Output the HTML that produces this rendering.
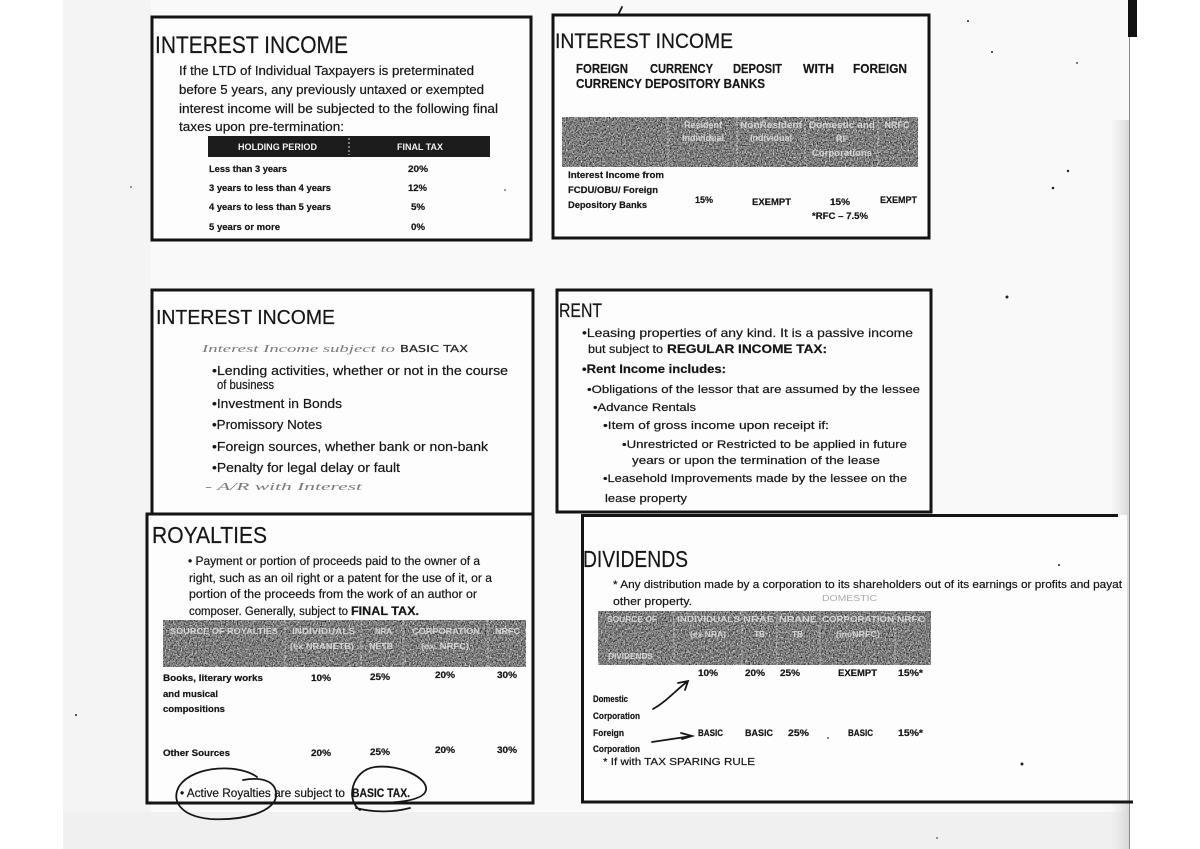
<!DOCTYPE html>
<html><head><meta charset="utf-8"><style>
html,body{margin:0;padding:0;background:#fff;width:1200px;height:849px;overflow:hidden}
svg{display:block}
text{font-family:"Liberation Sans",Arial,sans-serif;fill:#161616;stroke:#161616;stroke-width:0.2}
.b{font-weight:bold}
.hd{font-weight:bold;fill:#ececec;stroke:none;opacity:.8}
.hw{font-family:"Liberation Serif",serif;font-style:italic;fill:#7a7a7a;stroke:none}
.hc{font-family:"DejaVu Sans",sans-serif;fill:#2a2a2a}
.box{fill:none;stroke:#141414;stroke-width:3}
.ink{fill:none;stroke:#161616;stroke-width:1.8;stroke-linecap:round}
.sep{stroke:#c8c8c8;stroke-width:1;stroke-dasharray:2 1.5}
</style></head><body>
<svg width="1200" height="849" viewBox="0 0 1200 849" xmlns="http://www.w3.org/2000/svg">
<defs>
<filter id="n" x="0" y="0" width="1" height="1" color-interpolation-filters="sRGB">
<feTurbulence type="fractalNoise" baseFrequency="0.75" numOctaves="2" seed="5"/>
<feColorMatrix type="matrix" values="0.33 0.33 0.33 0 0 0.33 0.33 0.33 0 0 0.33 0.33 0.33 0 0 0 0 0 0 1"/>
<feComponentTransfer>
<feFuncR type="linear" slope="2.4" intercept="-0.70"/>
<feFuncG type="linear" slope="2.4" intercept="-0.70"/>
<feFuncB type="linear" slope="2.4" intercept="-0.70"/>
</feComponentTransfer>
</filter>
<linearGradient id="edge" x1="0" x2="1" y1="0" y2="0">
<stop offset="0" stop-color="#e6e6e6" stop-opacity="0"/>
<stop offset="1" stop-color="#d4d4d4" stop-opacity="1"/>
</linearGradient>
</defs>

<!-- page background -->
<rect x="0" y="0" width="1200" height="849" fill="#ffffff"/>
<rect x="63" y="0" width="1067" height="849" fill="#f9f9f9"/>
<rect x="63" y="0" width="88" height="849" fill="#f4f4f4"/>
<rect x="63" y="812" width="1067" height="37" fill="#f0f0f0"/>
<rect x="1110" y="120" width="20" height="729" fill="url(#edge)"/>
<line x1="1129.5" y1="37" x2="1129.5" y2="849" stroke="#8a8a8a" stroke-width="1"/>
<rect x="1128" y="0" width="9" height="37" fill="#111"/>

<!-- box interiors -->
<rect x="152" y="17" width="379" height="223" fill="#fdfdfd"/>
<rect x="553" y="15" width="376" height="223" fill="#fdfdfd"/>
<rect x="152" y="290" width="381" height="224" fill="#fdfdfd"/>
<rect x="557" y="290" width="374" height="222" fill="#fdfdfd"/>
<rect x="147" y="514" width="386" height="289" fill="#fdfdfd"/>
<rect x="582" y="515" width="545" height="287" fill="#fdfdfd"/>

<!-- ================= BOX 1 ================= -->
<rect class="box" x="152" y="17" width="379" height="223"/>
<text x="155" y="53" font-size="24" textLength="193" lengthAdjust="spacingAndGlyphs">INTEREST INCOME</text>
<text x="179" y="75" font-size="12.5" textLength="295" lengthAdjust="spacingAndGlyphs">If the LTD of Individual Taxpayers is preterminated</text>
<text x="179" y="94" font-size="12.5" textLength="305" lengthAdjust="spacingAndGlyphs">before 5 years, any previously untaxed or exempted</text>
<text x="179" y="113" font-size="12.5" textLength="319" lengthAdjust="spacingAndGlyphs">interest income will be subjected to the following final</text>
<text x="179" y="131" font-size="12.5" textLength="165" lengthAdjust="spacingAndGlyphs">taxes upon pre-termination:</text>
<rect x="208" y="136" width="282" height="21" fill="#1c1c1c"/>
<line x1="349" y1="138" x2="349" y2="155" stroke="#ddd" stroke-width="1" stroke-dasharray="2 2"/>
<text x="238" y="150" font-size="9.5" class="b" style="fill:#f2f2f2;stroke:none" textLength="79" lengthAdjust="spacingAndGlyphs">HOLDING PERIOD</text>
<text x="397" y="150" font-size="9.5" class="b" style="fill:#f2f2f2;stroke:none" textLength="46" lengthAdjust="spacingAndGlyphs">FINAL TAX</text>
<text x="209" y="172" font-size="9" class="b" textLength="78" lengthAdjust="spacingAndGlyphs">Less than 3 years</text>
<text x="408" y="172" font-size="9" class="b" textLength="20" lengthAdjust="spacingAndGlyphs">20%</text>
<text x="209" y="191" font-size="9" class="b" textLength="122" lengthAdjust="spacingAndGlyphs">3 years to less than 4 years</text>
<text x="408" y="191" font-size="9" class="b" textLength="19" lengthAdjust="spacingAndGlyphs">12%</text>
<text x="209" y="210" font-size="9" class="b" textLength="122" lengthAdjust="spacingAndGlyphs">4 years to less than 5 years</text>
<text x="411" y="210" font-size="9" class="b" textLength="14" lengthAdjust="spacingAndGlyphs">5%</text>
<text x="209" y="230" font-size="9" class="b" textLength="71" lengthAdjust="spacingAndGlyphs">5 years or more</text>
<text x="411" y="230" font-size="9" class="b" textLength="14" lengthAdjust="spacingAndGlyphs">0%</text>

<!-- ================= BOX 2 ================= -->
<path class="ink" d="M622 7 L618 15" stroke-width="1.5"/>
<rect class="box" x="553" y="15" width="376" height="223"/>
<text x="555" y="48" font-size="21" textLength="178" lengthAdjust="spacingAndGlyphs">INTEREST INCOME</text>
<text x="576" y="73" font-size="12.5" class="b" textLength="52" lengthAdjust="spacingAndGlyphs">FOREIGN</text>
<text x="650" y="73" font-size="12.5" class="b" textLength="63" lengthAdjust="spacingAndGlyphs">CURRENCY</text>
<text x="733" y="73" font-size="12.5" class="b" textLength="49" lengthAdjust="spacingAndGlyphs">DEPOSIT</text>
<text x="803" y="73" font-size="12.5" class="b" textLength="31" lengthAdjust="spacingAndGlyphs">WITH</text>
<text x="853" y="73" font-size="12.5" class="b" textLength="54" lengthAdjust="spacingAndGlyphs">FOREIGN</text>
<text x="576" y="88" font-size="12.5" class="b" textLength="189" lengthAdjust="spacingAndGlyphs">CURRENCY DEPOSITORY BANKS</text>
<rect x="562" y="117" width="356" height="50" filter="url(#n)"/>
<line class="sep" x1="668" y1="117" x2="668" y2="167"/>
<line class="sep" x1="737" y1="117" x2="737" y2="167"/>
<line class="sep" x1="805" y1="117" x2="805" y2="167"/>
<line class="sep" x1="878" y1="117" x2="878" y2="167"/>
<text x="703" y="128" font-size="9" class="hd" text-anchor="middle">Resident</text>
<text x="703" y="141" font-size="9" class="hd" text-anchor="middle">Individual</text>
<text x="771" y="128" font-size="9" class="hd" text-anchor="middle" textLength="62" lengthAdjust="spacingAndGlyphs">NonResident</text>
<text x="771" y="141" font-size="9" class="hd" text-anchor="middle">Individual</text>
<text x="842" y="128" font-size="9" class="hd" text-anchor="middle" textLength="66" lengthAdjust="spacingAndGlyphs">Domestic and</text>
<text x="842" y="142" font-size="9" class="hd" text-anchor="middle">RF</text>
<text x="842" y="156" font-size="9" class="hd" text-anchor="middle" textLength="60" lengthAdjust="spacingAndGlyphs">Corporations</text>
<text x="897" y="128" font-size="9" class="hd" text-anchor="middle">NRFC</text>
<text x="568" y="178" font-size="9.5" class="b" textLength="96" lengthAdjust="spacingAndGlyphs">Interest Income from</text>
<text x="568" y="193" font-size="9.5" class="b" textLength="90" lengthAdjust="spacingAndGlyphs">FCDU/OBU/ Foreign</text>
<text x="568" y="208" font-size="9.5" class="b" textLength="79" lengthAdjust="spacingAndGlyphs">Depository Banks</text>
<text x="695" y="203" font-size="9.5" class="b" textLength="18" lengthAdjust="spacingAndGlyphs">15%</text>
<text x="752" y="205" font-size="9.5" class="b" textLength="39" lengthAdjust="spacingAndGlyphs">EXEMPT</text>
<text x="830" y="205" font-size="9.5" class="b" textLength="20" lengthAdjust="spacingAndGlyphs">15%</text>
<text x="880" y="203" font-size="9.5" class="b" textLength="37" lengthAdjust="spacingAndGlyphs">EXEMPT</text>
<text x="812" y="219" font-size="9.5" class="b" textLength="56" lengthAdjust="spacingAndGlyphs">*RFC – 7.5%</text>

<!-- ================= BOX 3 ================= -->
<rect class="box" x="152" y="290" width="381" height="224"/>
<text x="156" y="324" font-size="20.5" textLength="179" lengthAdjust="spacingAndGlyphs">INTEREST INCOME</text>
<text x="202" y="352" font-size="11" class="hw" textLength="193" lengthAdjust="spacingAndGlyphs">Interest Income subject to</text>
<text x="400" y="352" font-size="10" class="hc" textLength="68" lengthAdjust="spacingAndGlyphs">BASIC TAX</text>
<text x="212" y="375" font-size="12.5" textLength="296" lengthAdjust="spacingAndGlyphs">•Lending activities, whether or not in the course</text>
<text x="217" y="389" font-size="12.5" textLength="57" lengthAdjust="spacingAndGlyphs">of business</text>
<text x="212" y="408" font-size="12.5" textLength="130" lengthAdjust="spacingAndGlyphs">•Investment in Bonds</text>
<text x="212" y="429" font-size="12.5" textLength="110" lengthAdjust="spacingAndGlyphs">•Promissory Notes</text>
<text x="212" y="451" font-size="12.5" textLength="276" lengthAdjust="spacingAndGlyphs">•Foreign sources, whether bank or non-bank</text>
<text x="212" y="472" font-size="12.5" textLength="188" lengthAdjust="spacingAndGlyphs">•Penalty for legal delay or fault</text>
<text x="205" y="490" font-size="11" class="hw" textLength="157" lengthAdjust="spacingAndGlyphs">-  A/R with Interest</text>

<!-- ================= BOX 4 ================= -->
<rect class="box" x="557" y="290" width="374" height="222"/>
<text x="559" y="317" font-size="19" textLength="43" lengthAdjust="spacingAndGlyphs">RENT</text>
<text x="582" y="337" font-size="12" textLength="331" lengthAdjust="spacingAndGlyphs">•Leasing properties of any kind. It is a passive  income</text>
<text x="588" y="353" font-size="12" textLength="75" lengthAdjust="spacingAndGlyphs">but subject to</text>
<text x="667" y="353" font-size="12" class="b" textLength="160" lengthAdjust="spacingAndGlyphs">REGULAR INCOME TAX:</text>
<text x="582" y="373" font-size="12" class="b" textLength="144" lengthAdjust="spacingAndGlyphs">•Rent Income includes:</text>
<text x="587" y="393" font-size="11" textLength="333" lengthAdjust="spacingAndGlyphs">•Obligations of the lessor that are assumed by the lessee</text>
<text x="593" y="411" font-size="11" textLength="103" lengthAdjust="spacingAndGlyphs">•Advance Rentals</text>
<text x="603" y="429" font-size="11" textLength="226" lengthAdjust="spacingAndGlyphs">•Item of gross income upon receipt if:</text>
<text x="622" y="448" font-size="11" textLength="285" lengthAdjust="spacingAndGlyphs">•Unrestricted or Restricted to be applied in future</text>
<text x="632" y="464" font-size="11" textLength="248" lengthAdjust="spacingAndGlyphs">years or upon the termination of the lease</text>
<text x="603" y="482" font-size="11" textLength="304" lengthAdjust="spacingAndGlyphs">•Leasehold Improvements made by the lessee on the</text>
<text x="605" y="502" font-size="11" textLength="82" lengthAdjust="spacingAndGlyphs">lease property</text>

<!-- ================= BOX 5 ================= -->
<rect class="box" x="147" y="514" width="386" height="289"/>
<text x="152" y="543" font-size="23" textLength="115" lengthAdjust="spacingAndGlyphs">ROYALTIES</text>
<text x="188" y="565" font-size="11.5" textLength="292" lengthAdjust="spacingAndGlyphs">• Payment or portion of proceeds paid to the owner of a</text>
<text x="189" y="582" font-size="11.5" textLength="303" lengthAdjust="spacingAndGlyphs">right, such as an oil right or a patent for the use of it, or a</text>
<text x="189" y="598" font-size="11.5" textLength="288" lengthAdjust="spacingAndGlyphs">portion of the proceeds from the work of an author or</text>
<text x="189" y="615" font-size="11.5" textLength="159" lengthAdjust="spacingAndGlyphs">composer. Generally, subject to</text>
<text x="351" y="615" font-size="11.5" class="b" textLength="68" lengthAdjust="spacingAndGlyphs">FINAL TAX.</text>
<rect x="163" y="620" width="363" height="47" filter="url(#n)"/>
<line class="sep" x1="285" y1="620" x2="285" y2="667"/>
<line class="sep" x1="361" y1="620" x2="361" y2="667"/>
<line class="sep" x1="403" y1="620" x2="403" y2="667"/>
<line class="sep" x1="488" y1="620" x2="488" y2="667"/>
<text x="170" y="634" font-size="8.5" class="hd" textLength="108" lengthAdjust="spacingAndGlyphs">SOURCE OF ROYALTIES</text>
<text x="292" y="634" font-size="8.5" class="hd" textLength="63" lengthAdjust="spacingAndGlyphs">INDIVIDUALS</text>
<text x="290" y="649" font-size="8.5" class="hd" textLength="64" lengthAdjust="spacingAndGlyphs">(ex NRANETB)</text>
<text x="375" y="634" font-size="8.5" class="hd" textLength="17" lengthAdjust="spacingAndGlyphs">NRA</text>
<text x="369" y="649" font-size="8.5" class="hd" textLength="24" lengthAdjust="spacingAndGlyphs">NETB</text>
<text x="412" y="634" font-size="8.5" class="hd" textLength="68" lengthAdjust="spacingAndGlyphs">CORPORATION</text>
<text x="421" y="649" font-size="8.5" class="hd" textLength="48" lengthAdjust="spacingAndGlyphs">(ex. NRFC)</text>
<text x="495" y="634" font-size="8.5" class="hd" textLength="25" lengthAdjust="spacingAndGlyphs">NRFC</text>
<text x="163" y="681" font-size="9" class="b" textLength="100" lengthAdjust="spacingAndGlyphs">Books,  literary works</text>
<text x="163" y="697" font-size="9" class="b" textLength="55" lengthAdjust="spacingAndGlyphs">and musical</text>
<text x="163" y="712" font-size="9" class="b" textLength="62" lengthAdjust="spacingAndGlyphs">compositions</text>
<text x="311" y="681" font-size="9" class="b" textLength="20" lengthAdjust="spacingAndGlyphs">10%</text>
<text x="370" y="680" font-size="9" class="b" textLength="20" lengthAdjust="spacingAndGlyphs">25%</text>
<text x="435" y="678" font-size="9" class="b" textLength="20" lengthAdjust="spacingAndGlyphs">20%</text>
<text x="497" y="678" font-size="9" class="b" textLength="20" lengthAdjust="spacingAndGlyphs">30%</text>
<text x="163" y="756" font-size="9" class="b" textLength="67" lengthAdjust="spacingAndGlyphs">Other Sources</text>
<text x="311" y="756" font-size="9" class="b" textLength="20" lengthAdjust="spacingAndGlyphs">20%</text>
<text x="370" y="755" font-size="9" class="b" textLength="20" lengthAdjust="spacingAndGlyphs">25%</text>
<text x="435" y="753" font-size="9" class="b" textLength="20" lengthAdjust="spacingAndGlyphs">20%</text>
<text x="497" y="753" font-size="9" class="b" textLength="20" lengthAdjust="spacingAndGlyphs">30%</text>
<text x="180" y="797" font-size="11.5" textLength="165" lengthAdjust="spacingAndGlyphs">• Active Royalties are subject to</text>
<text x="352" y="797" font-size="11.5" class="b" textLength="58" lengthAdjust="spacingAndGlyphs">BASIC TAX.</text>
<path class="ink" d="M257 777 C240 764,195 765,180 785 C170 800,180 816,210 819 C245 821,275 811,276 796 C277 783,265 776,243 780"/>
<path class="ink" d="M360 810 C345 800,352 770,375 767 C400 764,428 778,426 790 C424 800,400 803,372 803 M356 808 C375 813,395 812,410 808"/>

<!-- ================= BOX 6 ================= -->
<line x1="582" y1="515.5" x2="1118" y2="515.5" stroke="#141414" stroke-width="3"/>
<line x1="582.5" y1="514" x2="582.5" y2="803" stroke="#141414" stroke-width="3"/>
<line x1="581" y1="802" x2="1133" y2="802" stroke="#141414" stroke-width="3"/>
<text x="583" y="567" font-size="23" textLength="105" lengthAdjust="spacingAndGlyphs">DIVIDENDS</text>
<text x="613" y="588" font-size="11" textLength="509" lengthAdjust="spacingAndGlyphs">* Any distribution made by a corporation to its shareholders out of its earnings or profits and payat</text>
<text x="613" y="605" font-size="11" textLength="79" lengthAdjust="spacingAndGlyphs">other property.</text>
<text x="822" y="601" font-size="8" style="fill:#a8a8a8;stroke:none" textLength="55" lengthAdjust="spacingAndGlyphs">DOMESTIC</text>
<rect x="598" y="611" width="333" height="54" filter="url(#n)"/>
<line class="sep" x1="674" y1="611" x2="674" y2="665"/>
<line class="sep" x1="742" y1="611" x2="742" y2="665"/>
<line class="sep" x1="777" y1="611" x2="777" y2="665"/>
<line class="sep" x1="820" y1="611" x2="820" y2="665"/>
<line class="sep" x1="895" y1="611" x2="895" y2="665"/>
<text x="607" y="622" font-size="8.5" class="hd" textLength="50" lengthAdjust="spacingAndGlyphs">SOURCE OF</text>
<text x="677" y="622" font-size="8.5" class="hd" textLength="63" lengthAdjust="spacingAndGlyphs">INDIVIDUALS</text>
<text x="690" y="637" font-size="8.5" class="hd" textLength="36" lengthAdjust="spacingAndGlyphs">(ex NRA)</text>
<text x="743" y="622" font-size="8.5" class="hd" textLength="31" lengthAdjust="spacingAndGlyphs">NRAE</text>
<text x="754" y="637" font-size="8.5" class="hd" textLength="11" lengthAdjust="spacingAndGlyphs">TB</text>
<text x="779" y="622" font-size="8.5" class="hd" textLength="38" lengthAdjust="spacingAndGlyphs">NRANE</text>
<text x="792" y="637" font-size="8.5" class="hd" textLength="11" lengthAdjust="spacingAndGlyphs">TB</text>
<text x="822" y="622" font-size="8.5" class="hd" textLength="72" lengthAdjust="spacingAndGlyphs">CORPORATION</text>
<text x="836" y="637" font-size="8.5" class="hd" textLength="44" lengthAdjust="spacingAndGlyphs">(incNRFC)</text>
<text x="897" y="622" font-size="8.5" class="hd" textLength="28" lengthAdjust="spacingAndGlyphs">NRFC</text>
<text x="608" y="659" font-size="8.5" class="hd" textLength="45" lengthAdjust="spacingAndGlyphs">DIVIDENDS</text>
<text x="698" y="676" font-size="9" class="b" textLength="20" lengthAdjust="spacingAndGlyphs">10%</text>
<text x="745" y="676" font-size="9" class="b" textLength="20" lengthAdjust="spacingAndGlyphs">20%</text>
<text x="780" y="676" font-size="9" class="b" textLength="20" lengthAdjust="spacingAndGlyphs">25%</text>
<text x="838" y="676" font-size="9" class="b" textLength="39" lengthAdjust="spacingAndGlyphs">EXEMPT</text>
<text x="898" y="676" font-size="9" class="b" textLength="25" lengthAdjust="spacingAndGlyphs">15%*</text>
<text x="593" y="702" font-size="9" class="b" textLength="35" lengthAdjust="spacingAndGlyphs">Domestic</text>
<text x="593" y="719" font-size="9" class="b" textLength="47" lengthAdjust="spacingAndGlyphs">Corporation</text>
<text x="593" y="736" font-size="9" class="b" textLength="31" lengthAdjust="spacingAndGlyphs">Foreign</text>
<text x="593" y="752" font-size="9" class="b" textLength="47" lengthAdjust="spacingAndGlyphs">Corporation</text>
<text x="698" y="736" font-size="9" class="b" textLength="25" lengthAdjust="spacingAndGlyphs">BASIC</text>
<text x="745" y="736" font-size="9" class="b" textLength="28" lengthAdjust="spacingAndGlyphs">BASIC</text>
<text x="788" y="736" font-size="9" class="b" textLength="21" lengthAdjust="spacingAndGlyphs">25%</text>
<text x="848" y="736" font-size="9" class="b" textLength="25" lengthAdjust="spacingAndGlyphs">BASIC</text>
<text x="898" y="736" font-size="9" class="b" textLength="25" lengthAdjust="spacingAndGlyphs">15%*</text>
<text x="603" y="765" font-size="10" textLength="152" lengthAdjust="spacingAndGlyphs">* If with TAX SPARING RULE</text>
<circle cx="828" cy="738" r="0.9" fill="#333"/>
<path class="ink" stroke-width="1.2" d="M653 709 C666 702,676 690,688 681 M678 683 L688 681 L685 690"/>
<path class="ink" stroke-width="1.2" d="M652 742 L692 736 M681 733 L692 736 L682 739"/>

<!-- specks -->
<g fill="#222">
<circle cx="968" cy="21" r="1"/>
<circle cx="992" cy="52" r="1"/>
<circle cx="1077" cy="63" r="0.9"/>
<circle cx="1068" cy="171" r="1.2"/>
<circle cx="1053" cy="188" r="1.3"/>
<circle cx="1007" cy="297" r="1.5"/>
<circle cx="1059" cy="565" r="1"/>
<circle cx="1022" cy="764" r="1.5"/>
<circle cx="76" cy="715" r="1"/>
<circle cx="131" cy="187" r="0.8"/>
<circle cx="505" cy="190" r="0.8"/>
<circle cx="937" cy="838" r="0.8"/>
</g>
</svg>
</body></html>
